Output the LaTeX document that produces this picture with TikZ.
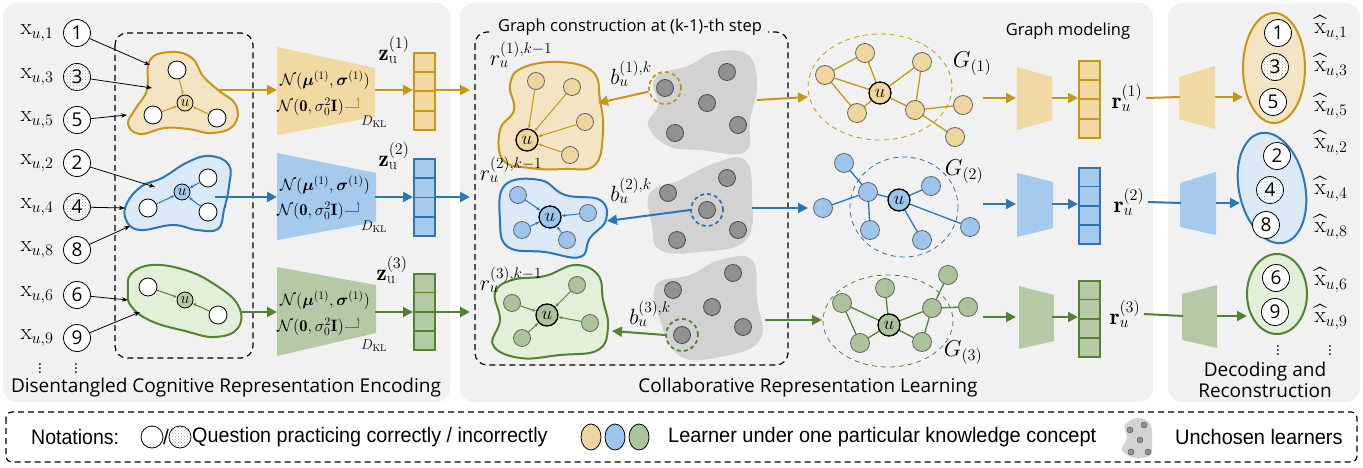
\RequirePackage{fix-cm}
\documentclass[tikz,border=0pt]{standalone}
\usepackage{fontspec}
\usepackage{amsmath,bm}
\usetikzlibrary{arrows.meta,patterns,calc}
\newfontfamily\osf{Open Sans}
\newfontfamily\lsf{Liberation Sans}
\definecolor{yl}{RGB}{196,152,22}\definecolor{ylf}{RGB}{243,229,196}\definecolor{ylt}{RGB}{240,217,163}\definecolor{yln}{RGB}{238,214,158}
\definecolor{bl}{RGB}{46,117,182}\definecolor{blf}{RGB}{220,233,247}\definecolor{blt}{RGB}{165,202,236}\definecolor{bln}{RGB}{157,197,235}
\definecolor{gn}{RGB}{84,130,53}\definecolor{gnf}{RGB}{226,239,217}\definecolor{gnt}{RGB}{180,202,167}\definecolor{gnn}{RGB}{170,195,155}
\definecolor{pan}{RGB}{241,241,241}\definecolor{gb}{RGB}{210,210,210}\definecolor{gnode}{RGB}{145,145,145}
\newcommand\msz{\fontsize{23}{25}\selectfont}
\newcommand\bsz{\fontsize{22}{24}\selectfont}
\newcommand\fsz{\fontsize{16.5}{18}\selectfont}
\newcommand\lgf{\lsf\fontsize{21}{21}\selectfont}
\newcommand\featvec[6]{%
\node[draw=#4,fill=#5,line width=1.8pt,minimum width=21pt,minimum height=#3pt,inner sep=0,anchor=north west] (#6) at (#1,#2) {};
\foreach \i in {1,2,3} \draw[#4,line width=1.8pt] ($(#6.north west)!\i/4!(#6.south west)$) -- ($(#6.north east)!\i/4!(#6.south east)$);}
\newcommand\trap[7]{\fill[#7] (#1,#2)--(#4,#5)--(#4,#6)--(#1,#3)--cycle;}
\begin{document}
\begin{tikzpicture}[x=1pt,y=-1pt,
 qn0/.style={circle,draw,thick,fill=white,minimum size=27pt,inner sep=0,font=\osf\fontsize{19}{19}\selectfont},
 qn1/.style={qn0,postaction={pattern=crosshatch dots,pattern color=gray!70}},
 wn/.style={circle,draw,thick,fill=white,minimum size=18pt,inner sep=0},
 un/.style={circle,draw,thick,minimum size=16pt,inner sep=0,font=\fontsize{16}{16}\selectfont},
 gnd/.style={circle,draw=black!60,thick,minimum size=19pt,inner sep=0},
 gu/.style={circle,draw,line width=1.3pt,minimum size=22pt,inner sep=0,font=\fontsize{19}{19}\selectfont},
 big/.style={line width=2pt,-{Triangle[length=10pt,width=10pt]}},
 inarr/.style={thick,-{Stealth[length=6pt]}},
 sm/.style={line width=1pt,-{Stealth[length=4pt]}},
 dbox/.style={dashed,line width=1.2pt,dash pattern=on 6pt off 4pt,rounded corners=12pt},
 ttl/.style={font=\osf\fontsize{16.5}{19}\selectfont},
 btl/.style={font=\osf\fontsize{19}{21}\selectfont},
 blob/.style={line width=2pt},
 ring/.style={circle,line width=1.8pt,dash pattern=on 4pt off 3pt,minimum size=32pt,inner sep=0}]
\useasboundingbox (0,0) rectangle (1363,468);
\fill[white] (0,0) rectangle (1363,468);
\fill[pan,rounded corners=14pt] (3,3) rectangle (450,402);
\fill[pan,rounded corners=14pt] (460,3) rectangle (1153,402);
\fill[pan,rounded corners=14pt] (1168,3) rectangle (1360,402);
% ---------- panel 1
\draw[dbox] (115,33) rectangle (253,358);
\foreach \n/\y/\t in {1/33/0,3/77/1,5/120/0,2/163/0,4/207/1,8/250/0,6/295/0,9/338/0}{
 \node[qn\t] (i\n) at (77,\y) {\n};
 \node[font=\msz] (lx\n) at (37,\y) {$\mathrm{x}_{u,\n}$};}
\node[font=\msz,inner sep=0] (d1) at (40,366) {$\vdots$};
\node[font=\msz,inner sep=0] (d2) at (76,366) {$\vdots$};
\draw[blob,yl,fill=ylf] plot[smooth cycle,tension=0.7] coordinates {(150,60)(172,52)(192,58)(203,76)(218,90)(236,105)(234,125)(213,133)(188,129)(165,128)(140,134)(128,124)(136,108)(147,90)};
\draw[blob,bl,fill=blf] plot[smooth cycle,tension=0.7] coordinates {(127,203)(142,186)(162,178)(188,162)(210,156)(229,165)(229,186)(224,210)(218,229)(197,230)(173,225)(140,230)(126,220)};
\draw[blob,gn,fill=gnf] plot[smooth cycle,tension=0.7] coordinates {(131,274)(152,265)(185,270)(214,284)(238,305)(238,328)(215,337)(185,331)(151,321)(131,306)(128,290)};
\node[wn] (ea1) at (177,70) {}; \node[wn] (ea2) at (153,115) {}; \node[wn] (ea3) at (217,118) {};
\node[un,fill=ylt] (eau) at (185,103) {$u$};
\node[wn] (eb1) at (148,208) {}; \node[wn] (eb2) at (208,178) {}; \node[wn] (eb3) at (208,212) {};
\node[un,fill=blt] (ebu) at (182,192) {$u$};
\node[wn] (ec1) at (148,287) {}; \node[wn] (ec2) at (218,315) {};
\node[un,fill=gnt] (ecu) at (185,300) {$u$};
\foreach \a in {ea1,ea2,ea3} \draw[sm,yl] (\a) -- (eau);
\foreach \a in {eb1,eb2,eb3} \draw[sm,bl] (\a) -- (ebu);
\foreach \a in {ec1,ec2} \draw[sm,gn] (\a) -- (ecu);
\foreach \n/\x/\y in {1/150/65,3/152/88,5/127/115,2/155/187,4/125/208,8/130/226,6/128/300,9/140/312}{
 \coordinate (t\n) at (\x,\y); \draw[inarr] (i\n) -- (t\n);}
\trap{277}{47}{135}{375}{68}{117}{ylt}
\trap{277}{153}{240}{376}{173}{222}{blt}
\trap{277}{267}{356}{376}{285}{333}{gnt}
\foreach \c/\ya/\yb/\yd in {yl/80/107/117,bl/185/211/222,gn/300/327/341}{
 \node[font=\fsz] (fa\c) at (325,\ya) {$\mathcal{N}(\bm{\mu}^{(1)},\bm{\sigma}^{(1)})$};
 \node[font=\fsz,anchor=west,inner sep=1pt] (fb\c) at (276,\yb) {$\mathcal{N}(\mathbf{0},\sigma_0^2\mathbf{I})$};
 \node[font=\fontsize{14}{14}\selectfont] (dk\c) at (374,\yd+5) {$D_{\mathrm{KL}}$};
 \draw[\c,thick,-{Stealth[length=4pt]}] (fb\c.east) -- ++(13,0) -- ++(0,-10);}
\featvec{413}{52}{77}{yl}{ylt}{z1}
\featvec{413}{158}{77}{bl}{blt}{z2}
\featvec{413}{273}{76}{gn}{gnt}{z3}
\node[font=\msz] (zl1) at (394,50) {$\mathbf{z}_{\mathrm{u}}^{(1)}$};
\node[font=\msz] (zl2) at (394,156) {$\mathbf{z}_{\mathrm{u}}^{(2)}$};
\node[font=\msz] (zl3) at (392,270) {$\mathbf{z}_{\mathrm{u}}^{(3)}$};
\foreach \c/\y/\xs in {yl/90/218,bl/197/215,gn/312/240}{
 \coordinate (bs\c) at (\xs,\y); \coordinate (te\c) at (277,\y);
 \coordinate (ts\c) at (375,\y); \coordinate (ze\c) at (413,\y);
 \coordinate (zs\c) at (435,\y); \coordinate (zo\c) at (470,\y);
 \draw[big,\c] (bs\c) -- (te\c); \draw[big,\c] (ts\c) -- (ze\c); \draw[big,\c] (zs\c) -- (zo\c);}
\node[btl] (t1) at (226,388) {Disentangled Cognitive Representation Encoding};
% ---------- panel 2
\draw[dbox] (475,32) rectangle (788,365);
\node[ttl,fill=pan,inner xsep=6pt] (t2) at (630,27) {Graph construction at (k-1)-th step};
\draw[blob,yl,fill=ylf] plot[smooth cycle,tension=0.7] coordinates {(522,68)(560,62)(593,72)(600,100)(603,132)(595,165)(565,169)(530,168)(503,160)(500,130)(514,110)(510,85)};
\draw[blob,bl,fill=blf] plot[smooth cycle,tension=0.7] coordinates {(505,185)(540,180)(565,195)(600,200)(606,220)(590,238)(580,257)(545,252)(508,247)(500,220)};
\draw[blob,gn,fill=gnf] plot[smooth cycle,tension=0.7] coordinates {(495,293)(512,280)(545,276)(575,265)(598,275)(603,300)(608,327)(598,350)(560,355)(520,358)(493,345)(500,320)};
\fill[gb] plot[smooth cycle,tension=0.7] coordinates {(655,78)(690,65)(715,52)(748,55)(757,85)(750,120)(745,152)(700,150)(668,146)(648,125)(658,105)};
\fill[gb] plot[smooth cycle,tension=0.7] coordinates {(650,193)(680,180)(715,163)(745,160)(752,195)(746,240)(700,252)(660,250)(652,225)};
\fill[gb] plot[smooth cycle,tension=0.7] coordinates {(656,285)(690,275)(720,260)(752,260)(757,300)(760,340)(720,357)(680,356)(660,320)};
\foreach \n/\x/\y in {1/536/81,2/572/87,3/585/122,4/570/155}{\node[gnd,fill=yln,minimum size=17pt] (ra\n) at (\x,\y) {};}
\node[gu,fill=yln] (rau) at (527,140) {$u$};
\foreach \n/\x/\y in {1/518/195,2/522/230,3/588/213,4/567/240}{\node[gnd,fill=bln,minimum size=17pt] (rb\n) at (\x,\y) {};}
\node[gu,fill=bln] (rbu) at (550,217) {$u$};
\foreach \n/\x/\y in {1/512/303,2/522/338,3/577/285,4/590/323}{\node[gnd,fill=gnn,minimum size=17pt] (rc\n) at (\x,\y) {};}
\node[gu,fill=gnn] (rcu) at (547,315) {$u$};
\foreach \n in {1,2,3,4}{\draw[sm,yl] (ra\n) -- (rau); \draw[sm,bl] (rb\n) -- (rbu); \draw[sm,gn] (rc\n) -- (rcu);}
\foreach \n/\x/\y in {1/665/88,2/727/72,3/707/103,4/675/133,5/738/125,
 6/668/193,7/727/178,8/707/210,9/677/240,10/738/230,
 11/673/290,12/733/273,13/712/307,14/743/327,15/682/335}{
 \node[gnd,fill=gnode,draw=black!70,minimum size=17pt] (gy\n) at (\x,\y) {};}
\node[ring,draw=yl] (rg1) at (gy1) {};
\node[ring,draw=bl] (rg2) at (gy8) {};
\node[ring,draw=gn] (rg3) at (gy15) {};
\coordinate (be1) at (598,103); \coordinate (be2) at (607,221); \coordinate (be3) at (612,331);
\draw[big,yl] (rg1) -- (be1);
\draw[big,bl] (rg2.west) -- (be2);
\draw[big,gn] (rg3.west) -- (be3);
\node[font=\bsz] (bl1) at (631,74) {$b_u^{(1),k}$};
\node[font=\bsz] (bl2) at (631,191) {$b_u^{(2),k}$};
\node[font=\bsz] (bl3) at (650,314) {$b_u^{(3),k}$};
\node[font=\bsz] (rl1) at (521,55) {$r_u^{(1),k-1}$};
\node[font=\bsz] (rl2) at (511,170) {$r_u^{(2),k-1}$};
\node[font=\bsz] (rl3) at (511,280) {$r_u^{(3),k-1}$};
% graphs
\draw[yl,thick,dash pattern=on 5pt off 4pt] (880,87) ellipse [x radius=72,y radius=53];
\draw[bl,thick,dash pattern=on 5pt off 4pt] (904,207) ellipse [x radius=54,y radius=50];
\draw[gn,thick,dash pattern=on 5pt off 4pt] (888,321) ellipse [x radius=65,y radius=46];
\foreach \n/\x/\y in {a/825/75,b/865/53,c/857/113,d/922/62,e/915/110,f/963/105,g/955/137}{\coordinate (ya\n) at (\x,\y);}
\coordinate (yau) at (880,93);
\foreach \p/\q in {a/b,a/u,a/c,b/u,c/u,u/d,d/e,u/e,e/f,e/g}{\draw[yl,line width=1.3pt] (ya\p) -- (ya\q);}
\foreach \n/\x/\y in {a/844/163,b/868/192,c/931/186,d/823/208,e/870/230,f/922/240,g/970/227}{\coordinate (ba\n) at (\x,\y);}
\coordinate (bau) at (899,200);
\foreach \p/\q in {a/b,b/d,b/u,u/c,b/e,u/f,u/g}{\draw[bl,line width=1.3pt] (ba\p) -- (ba\q);}
\foreach \n/\x/\y in {a/842/303,b/885/288,c/860/343,d/922/342,e/932/308,f/948/275,g/968/307}{\coordinate (ga\n) at (\x,\y);}
\coordinate (gau) at (889,325);
\foreach \p/\q in {a/u,a/c,b/u,c/u,u/e,u/d,e/d,e/f,e/g}{\draw[gn,line width=1.3pt] (ga\p) -- (ga\q);}
\foreach \n in {a,b,c,d,e,f,g}{\node[gnd,fill=yln] at (ya\n) {}; \node[gnd,fill=bln] at (ba\n) {}; \node[gnd,fill=gnn] at (ga\n) {};}
\node[gu,fill=yln] (yaun) at (yau) {$u$};
\node[gu,fill=bln] (baun) at (bau) {$u$};
\node[gu,fill=gnn] (gaun) at (gau) {$u$};
\node[font=\msz] (g1) at (972,64) {$G_{(1)}$};
\node[font=\msz] (g2) at (964,172) {$G_{(2)}$};
\node[font=\msz] (g3) at (963,353) {$G_{(3)}$};
\coordinate (ga1s) at (757,100); \coordinate (ga1e) at (808,97);
\coordinate (ga2s) at (752,208); \coordinate (ga2e) at (808,208);
\coordinate (ga3s) at (765,320); \coordinate (ga3e) at (822,320);
\draw[big,yl] (ga1s) -- (ga1e); \draw[big,bl] (ga2s) -- (ga2e); \draw[big,gn] (ga3s) -- (ga3e);
\node[ttl] (t3) at (1068,31) {Graph modeling};
\trap{1017}{67}{130}{1052}{77}{120}{ylt}
\trap{1017}{173}{237}{1053}{182}{228}{blt}
\trap{1019}{286}{349}{1054}{295}{341}{gnt}
\featvec{1078}{60}{77}{yl}{ylt}{r1}
\featvec{1078}{167}{76}{bl}{blt}{r2}
\featvec{1078}{280}{76}{gn}{gnt}{r3}
\foreach \c/\y in {yl/98,bl/204,gn/317}{
 \coordinate (ms\c) at (983,\y); \coordinate (me\c) at (1016,\y);
 \coordinate (ns\c) at (1052,\y); \coordinate (ne\c) at (1078,\y);
 \draw[big,\c] (ms\c) -- (me\c); \draw[big,\c] (ns\c) -- (ne\c);}
\node[font=\msz] (rr1) at (1127,98) {$\mathbf{r}_u^{(1)}$};
\node[font=\msz] (rr2) at (1129,202) {$\mathbf{r}_u^{(2)}$};
\node[font=\msz] (rr3) at (1125,314) {$\mathbf{r}_u^{(3)}$};
\node[btl] (t4) at (808,388) {Collaborative Representation Learning};
% ---------- panel 3
\trap{1179}{77}{119}{1215}{66}{129}{ylt}
\trap{1180}{183}{227}{1216}{172}{235}{blt}
\trap{1182}{294}{340}{1217}{285}{348}{gnt}
\coordinate (dc1) at (1180,97); \coordinate (dc2) at (1181,203); \coordinate (dc3) at (1183,316);
\draw[yl,line width=2pt] (rr1.east) -- (dc1);
\draw[bl,line width=2pt] (rr2.east) -- (dc2);
\draw[gn,line width=2pt] (rr3.east) -- (dc3);
\draw[blob,yl,fill=ylf] (1274,68) ellipse [x radius=31,y radius=55];
\draw[blob,bl,fill=blf,rotate around={12:(1272,188)}] (1272,188) ellipse [x radius=33,y radius=56];
\draw[blob,gn,fill=gnf] (1277,294) ellipse [x radius=30,y radius=40];
\coordinate (ds1) at (1215,97); \coordinate (ds2) at (1216,203); \coordinate (ds3) at (1217,316);
\coordinate (de1) at (1243,97); \coordinate (de2) at (1240,203); \coordinate (de3) at (1247,316);
\draw[big,yl] (ds1) -- (de1); \draw[big,bl] (ds2) -- (de2); \draw[big,gn] (ds3) -- (de3);
\node[qn0] (o1) at (1278,33) {1};
\node[qn0,postaction={pattern=crosshatch dots,pattern color=yln!80!black}] (o3) at (1275,67) {3};
\node[qn0] (o5) at (1273,102) {5};
\node[qn0] (o2) at (1277,156) {2};
\node[qn0,postaction={pattern=crosshatch dots,pattern color=bln}] (o4) at (1270,190) {4};
\node[qn0] (o8) at (1266,225) {8};
\node[qn0] (o6) at (1276,278) {6};
\node[qn0] (o9) at (1275,312) {9};
\foreach \n/\y in {1/28,3/66,5/106,2/143,4/189,8/227,6/280,9/317}{\node[font=\msz,inner sep=0] (hx\n) at (1331,\y) {$\widehat{\mathrm{x}}_{u,\n}$};}
\node[font=\msz,inner sep=0] (d3) at (1278,348) {$\vdots$};
\node[font=\msz,inner sep=0] (d4) at (1330,348) {$\vdots$};
\node[btl,align=center] (t5) at (1265,380) {Decoding and\\Reconstruction};
% ---------- legend
\draw[dbox,rounded corners=6pt] (6,412) rectangle (1357,462);
\node[font=\lgf,anchor=west,inner sep=0] (n0) at (31,437) {\scalebox{0.93}[1]{Notations:}};
\node[circle,draw,thick,fill=white,minimum width=17pt,minimum height=22pt,inner sep=0] (n1) at (152,437) {};
\node[font=\lgf,inner sep=0] (n2) at (166,437) {/};
\node[circle,draw,thick,fill=white,minimum width=17pt,minimum height=22pt,inner sep=0,postaction={pattern=crosshatch dots,pattern color=gray!70}] (n3) at (180,437) {};
\node[font=\lgf,anchor=west,inner sep=0] (n4) at (192,437) {\scalebox{0.94}[1]{Question practicing correctly / incorrectly}};
\draw[thick,fill=yln] (591,437) ellipse [x radius=10,y radius=13];
\draw[thick,fill=bln] (615,437) ellipse [x radius=10,y radius=13];
\draw[thick,fill=gnn] (639,437) ellipse [x radius=10,y radius=13];
\node[font=\lgf,anchor=west,inner sep=0] (n5) at (668,437) {\scalebox{0.95}[1]{Learner under one particular knowledge concept}};
\fill[gb] plot[smooth cycle,tension=0.7] coordinates {(1125,425)(1138,418)(1150,424)(1152,440)(1150,455)(1135,458)(1122,450)(1127,438)};
\foreach \x/\y in {1130/430,1144/425,1140/440,1131/452,1148/452}{\draw[fill=gnode,draw=black!70] (\x,\y) circle (3);}
\node[font=\lgf,anchor=west,inner sep=0] (n6) at (1175,437) {\scalebox{0.95}[1]{Unchosen learners}};
\end{tikzpicture}
\end{document}
